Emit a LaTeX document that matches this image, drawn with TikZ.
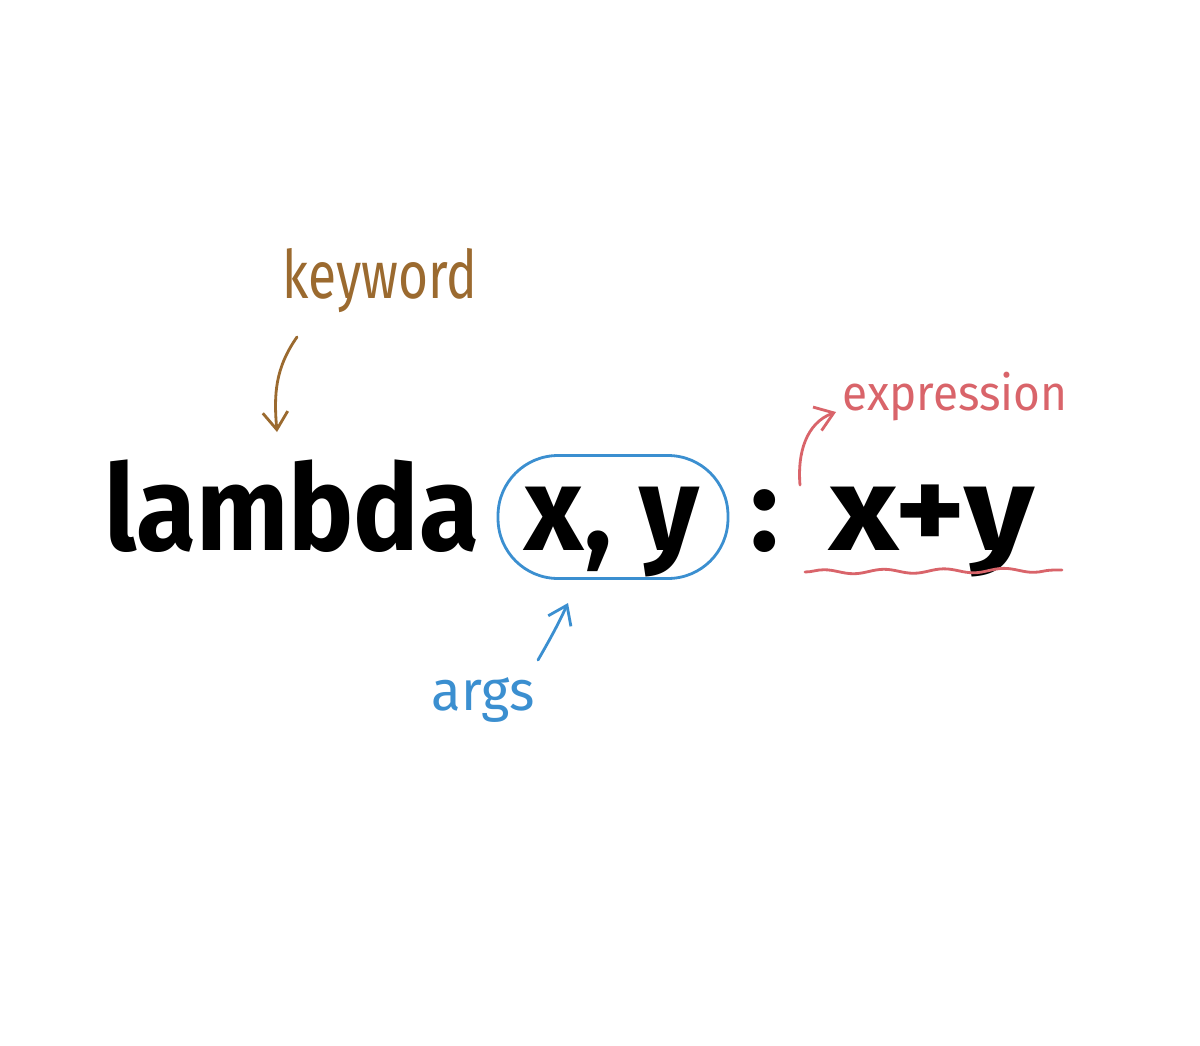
\documentclass[tikz,border=0pt]{standalone}
\usepackage{fontspec}
\setmainfont{Fira Sans}
\usetikzlibrary{arrows.meta,decorations.pathmorphing}
\definecolor{kwbrown}{HTML}{9B6A2F}
\definecolor{argblue}{HTML}{3B8FD0}
\definecolor{exred}{HTML}{D9646A}
\tikzset{
  big/.style={font=\fontsize{68}{80}\selectfont\bfseries, inner sep=0pt, text=black},
  note/.style={inner sep=0pt},
  pointer/.style={line width=1.6pt, -{Straight Barb[length=3.5mm,width=5mm]}, line cap=round},
}
\begin{document}
\begin{tikzpicture}[x=0.02cm,y=-0.02cm]
\useasboundingbox[fill=white] (0,0) rectangle (1200,1045);
% main text
\node[big, anchor=base] (lam) at (292,550) {\resizebox{7.5cm}{\height}{lambda}};
\node[big, anchor=base] (xy) at (612,550) {\resizebox{3.5cm}{\height}{x, y}};
\node[big, anchor=base] (col) at (765,550) {:};
\node[big, anchor=base] (xpy) at (932,550) {\resizebox{4.1cm}{\height}{x+y}};
% args box
\node[draw=argblue, line width=1.6pt, rounded corners=1.2cm, minimum width=4.6cm, minimum height=2.46cm] (argbox) at (613,517) {};
% labels
\node[note, text=kwbrown, anchor=base, font=\fontsize{38}{44}\selectfont] (kw) at (380,298) {\resizebox{3.9cm}{\height}{keyword}};
\node[note, text=exred, anchor=base, font=\fontsize{28}{34}\selectfont] (ex) at (955,410) {\resizebox{4.5cm}{\height}{expression}};
\node[note, text=argblue, anchor=base, font=\fontsize{32}{38}\selectfont] (args) at (483,710) {\resizebox{2.06cm}{\height}{args}};
% pointers
\coordinate (kwtip) at (277,432);
\coordinate (kwstart) at (297,337);
\draw[pointer, kwbrown] (kwstart) to[out=235,in=95] (kwtip);
\coordinate (argtip) at (568,603);
\coordinate (argstart) at (538,660);
\draw[pointer, argblue] (argstart) to[out=60,in=245] (argtip);
\coordinate (extip) at (836,412);
\coordinate (exstart) at (800,485);
\draw[pointer, exred] (exstart) to[out=95,in=200] (extip);
% wavy underline
\coordinate (ulA) at (805,572);
\coordinate (ulB) at (1062,570);
\draw[exred, line width=1.6pt, line cap=round, decorate, decoration={snake, amplitude=1.2pt, segment length=1.2cm}] (ulA) -- (ulB);
\end{tikzpicture}
\end{document}
